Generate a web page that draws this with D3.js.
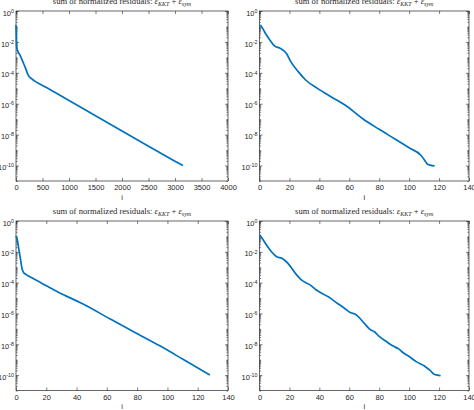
<!DOCTYPE html>
<html>
<head>
<meta charset="utf-8">
<script src="https://cdn.jsdelivr.net/npm/d3@7"></script>
<style>
    body { margin: 0; background: #fff; }
    svg { display: block; color: #262626; }
    .tick text { font-family: "Liberation Sans", Arial, sans-serif; font-size: 7.5px; fill: #262626; }
    .tick line { stroke: #262626; stroke-width: 0.6; }
    .title { font-family: "Liberation Serif", "Times New Roman", serif; font-size: 8.6px; fill: #262626; }
    .xlabel { font-family: "Liberation Sans", Arial, sans-serif; font-size: 7.5px; fill: #262626; }
</style>
</head>
<body>
<div id="chart"></div>
<script>

// residuals, one pair of arrays per panel

// top left (long run)
const iterTL = [0, 5, 13, 30, 75, 170, 233, 300, 360, 450, 600, 1000, 1500, 2000, 2500, 3000, 3150];
const resTL = [1.25e-1, 4e-2, 5e-3, 2.8e-3, 1.4e-3, 2.4e-4, 6.9e-5, 4e-5, 2.8e-5, 1.9e-5, 1e-5,
    1.6e-6, 1.66e-7, 1.7e-8, 1.78e-9, 1.9e-10, 1e-10];

// top right
const iterTR = [0, 1, 4, 7, 10, 14, 18, 21, 26, 31, 39, 48, 59, 69, 80, 90, 100, 108, 110, 112, 114, 117];
const resTR = [1.25e-1, 1.1e-1, 3.5e-2, 1.3e-2, 5.6e-3, 3.8e-3, 1.8e-3, 5.1e-4, 1.15e-4, 3.3e-5, 9.5e-6,
    2.75e-6, 6.2e-7, 1.07e-7, 2.2e-8, 5.6e-9, 1.4e-9, 4.5e-10, 2.5e-10, 1.3e-10, 1.07e-10, 9.5e-11];

// bottom left
const iterBL = [0, 1, 2, 3, 4, 5, 7, 11, 20, 28, 44, 62, 78, 95, 110, 128];
const resBL = [1.1e-1, 5e-2, 1.26e-2, 3.2e-3, 8e-4, 4.5e-4, 3.2e-4, 1.9e-4, 6.3e-5, 2.4e-5, 4.2e-6,
    4.5e-7, 6.3e-8, 7.9e-9, 1.1e-9, 1e-10];

// bottom right
const iterBR = [0, 1, 4, 8, 11.5, 15, 19, 24, 28, 34, 38, 46, 52, 57, 61, 64, 66, 70, 74, 77, 80,
    85, 89, 93, 96, 100, 105, 110, 114, 117, 119, 121];
const resBR = [1.25e-1, 9.5e-2, 3.5e-2, 1.02e-2, 4.8e-3, 3.8e-3, 1.8e-3, 4e-4, 1.5e-4, 6.9e-5, 3.3e-5,
    1.2e-5, 4.6e-6, 2.1e-6, 1.1e-6, 8.9e-7, 6.2e-7, 2.3e-7, 8.9e-8, 6.3e-8, 3.2e-8, 1.45e-8, 7.9e-9,
    5e-9, 2.8e-9, 1.6e-9, 7.2e-10, 4e-10, 2e-10, 1.1e-10, 1e-10, 9e-11];

// tick labels
const xTicksLong = [0, 500, 1000, 1500, 2000, 2500, 3000, 3500, 4000];
const xTicksShort = [0, 20, 40, 60, 80, 100, 120, 140];
const yTicks = [1e0, 1e-2, 1e-4, 1e-6, 1e-8, 1e-10];
const yDomain = [1e-11, 1];


class ResidualPlot {

    constructor(svg, box, iters, resid, xMax, xTicks) {
        this.svg = svg;
        this.box = box;
        this.data = iters.map((d, k) => ({i: d, r: resid[k]}));
        this.xMax = xMax;
        this.xTicks = xTicks;

        this.initVis();
    }

    initVis() {
        let vis = this;
        let b = vis.box;

        vis.x = d3.scaleLinear().domain([0, vis.xMax]).range([b.left, b.right]);
        vis.y = d3.scaleLog().domain(yDomain).range([b.bottom, b.top]);

        vis.g = vis.svg.append("g");

        // minor log ticks (2..9 x 10^k plus the unlabeled decades)
        vis.minor = [];
        for (let e = -11; e < 0; e++) {
            for (let m = 1; m < 10; m++) {
                if (m === 1 && e % 2 === 0) continue;
                vis.minor.push(m * Math.pow(10, e));
            }
        }

        // bottom axis
        vis.g.append("g")
            .attr("transform", `translate(0, ${b.bottom})`)
            .call(d3.axisBottom(vis.x).tickValues(vis.xTicks).tickSizeInner(-3).tickSizeOuter(0).tickPadding(4)
                .tickFormat(d3.format("d")))
            .call(g => g.select(".domain").remove());

        // top axis, no labels
        vis.g.append("g")
            .attr("transform", `translate(0, ${b.top})`)
            .call(d3.axisTop(vis.x).tickValues(vis.xTicks).tickSizeInner(-3).tickSizeOuter(0).tickFormat(""))
            .call(g => g.select(".domain").remove());

        // left axis with 10^k labels
        vis.g.append("g")
            .attr("transform", `translate(${b.left}, 0)`)
            .call(d3.axisLeft(vis.y).tickValues(yTicks).tickSizeInner(-3).tickSizeOuter(0).tickPadding(2)
                .tickFormat(() => "10"))
            .call(g => g.select(".domain").remove())
            .call(g => g.selectAll(".tick text")
                .attr("dy", "0.55em")
                .append("tspan")
                .attr("dy", "-0.55em")
                .style("font-size", "5.3px")
                .text(d => {
                    let e = Math.round(Math.log10(d));
                    return e === 0 ? "0" : "-" + Math.abs(e);
                }));

        vis.g.append("g")
            .attr("transform", `translate(${b.left}, 0)`)
            .call(d3.axisLeft(vis.y).tickValues(vis.minor).tickSizeInner(-1.6).tickSizeOuter(0).tickFormat(""))
            .call(g => g.select(".domain").remove());

        // right axis
        vis.g.append("g")
            .attr("transform", `translate(${b.right}, 0)`)
            .call(d3.axisRight(vis.y).tickValues(yTicks).tickSizeInner(-3).tickSizeOuter(0).tickFormat(""))
            .call(g => g.select(".domain").remove());
        vis.g.append("g")
            .attr("transform", `translate(${b.right}, 0)`)
            .call(d3.axisRight(vis.y).tickValues(vis.minor).tickSizeInner(-1.6).tickSizeOuter(0).tickFormat(""))
            .call(g => g.select(".domain").remove());

        // box
        vis.g.append("rect")
            .attr("x", b.left)
            .attr("y", b.top)
            .attr("width", b.right - b.left)
            .attr("height", b.bottom - b.top)
            .attr("fill", "none")
            .attr("stroke", "#262626")
            .attr("stroke-width", 0.7);

        // title
        let t = vis.g.append("text")
            .attr("class", "title")
            .attr("x", (b.left + b.right) / 2)
            .attr("y", b.top - 7)
            .attr("text-anchor", "middle");
        t.append("tspan").text("sum of normalized residuals: ");
        t.append("tspan").style("font-style", "italic").text("\u03b5");
        t.append("tspan").style("font-style", "italic").style("font-size", "6px").attr("dy", 1.8).text("KKT");
        t.append("tspan").attr("dy", -1.8).text(" + ");
        t.append("tspan").style("font-style", "italic").text("\u03b5");
        t.append("tspan").style("font-style", "italic").style("font-size", "6px").attr("dy", 1.8).text("sym");

        // x label
        vis.g.append("text")
            .attr("class", "xlabel")
            .attr("x", (b.left + b.right) / 2)
            .attr("y", b.bottom + 18.5)
            .attr("text-anchor", "middle")
            .text("i");

        vis.updateVis();
    }

    updateVis() {
        let vis = this;

        vis.line = d3.line()
            .x(d => vis.x(d.i))
            .y(d => vis.y(d.r))
            .curve(d3.curveMonotoneX);

        vis.g.append("path")
            .datum(vis.data)
            .attr("fill", "none")
            .attr("stroke", "#0072BD")
            .attr("stroke-width", 1.7)
            .attr("stroke-linejoin", "round")
            .attr("d", vis.line);
    }
}


let svg = d3.select("#chart").append("svg")
    .attr("width", 474)
    .attr("height", 410);

let colL = {left: 16, right: 228};
let colR = {left: 259.5, right: 469};
let rowT = {top: 11, bottom: 181};
let rowB = {top: 221, bottom: 390.5};

new ResidualPlot(svg, {...colL, ...rowT}, iterTL, resTL, 4000, xTicksLong);
new ResidualPlot(svg, {...colR, ...rowT}, iterTR, resTR, 140, xTicksShort);
new ResidualPlot(svg, {...colL, ...rowB}, iterBL, resBL, 140, xTicksShort);
new ResidualPlot(svg, {...colR, ...rowB}, iterBR, resBR, 140, xTicksShort);

</script>
</body>
</html>
